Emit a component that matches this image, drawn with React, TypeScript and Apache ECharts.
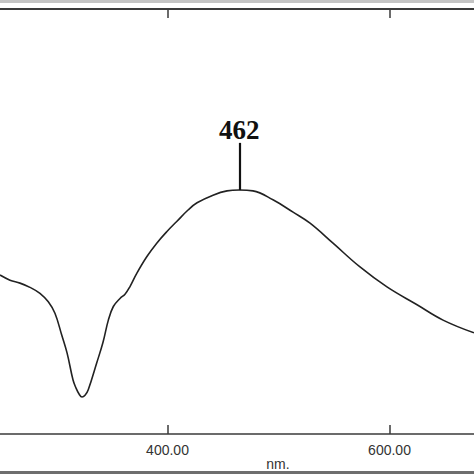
import React, { useEffect, useRef } from "react";
import * as echarts from "echarts";

// Wavelength (nm) and absorbance
const wavelengths: number[] = [
  249.1, 258.1, 267.1, 276.1, 285.1, 292.6, 298.6, 304.7, 309.5, 314.9,
  317.6, 320.3, 323.0, 325.7, 328.6, 336.2, 341.9, 346.7, 351.2, 357.2, 361.7,
  366.2, 372.3, 381.3, 390.3, 399.3, 408.3, 418.5, 426.6, 441.0, 453.6,
  464.7, 477.0, 495.0, 513.1, 528.4, 549.1, 573.4, 597.7, 624.8, 648.2, 676.1,
];
const absorbance: number[] = [
  0.374, 0.362, 0.355, 0.345, 0.331, 0.311, 0.284, 0.233, 0.191, 0.127,
  0.108, 0.094, 0.087, 0.091, 0.104, 0.167, 0.216, 0.268, 0.300, 0.319, 0.329,
  0.347, 0.378, 0.417, 0.449, 0.476, 0.500, 0.527, 0.544, 0.562, 0.572,
  0.574, 0.572, 0.551, 0.522, 0.496, 0.449, 0.393, 0.346, 0.304, 0.268, 0.238,
];
const tickValues: number[] = [400, 600];
const peakLabel = "462";
const peakMarkTop = 0.685;
const xMin = 249.1;
const xMax = 676.1;

export default function App() {
  const ref = useRef<HTMLDivElement>(null);
  useEffect(() => {
    if (!ref.current) return;
    const chart = echarts.init(ref.current, undefined, { renderer: "svg" });
    const data = wavelengths.map((w, i) => [w, absorbance[i]]);
    let peakIdx = 0;
    absorbance.forEach((a, i) => {
      if (a > absorbance[peakIdx]) peakIdx = i;
    });
    const peakX = wavelengths[peakIdx];
    const peakY = absorbance[peakIdx];
    const axisColor = "#3a3a3a";
    chart.setOption({
      animation: false,
      backgroundColor: "#ffffff",
      grid: {
        left: 0,
        right: 0,
        top: 9,
        bottom: 40,
        containLabel: false,
        outerBoundsMode: "none",
      },
      xAxis: [
        {
          type: "value",
          position: "bottom",
          min: xMin,
          max: xMax,
          splitLine: { show: false },
          axisLine: { show: true, lineStyle: { color: axisColor, width: 1.5 } },
          axisTick: {
            show: true,
            inside: true,
            length: 9,
            customValues: tickValues,
            lineStyle: { color: axisColor, width: 1.5 },
          },
          axisLabel: {
            show: true,
            customValues: tickValues,
            formatter: (v: number) => v.toFixed(2),
            fontFamily: "Liberation Sans, Arial, sans-serif",
            fontSize: 14,
            color: "#333",
            margin: 9,
          },
          name: "nm.",
          nameLocation: "middle",
          nameGap: 23,
          nameMoveOverlap: false,
          nameTextStyle: {
            fontFamily: "Liberation Sans, Arial, sans-serif",
            fontSize: 14,
            lineHeight: 14,
            color: "#333",
            padding: [0, 0, 0, 82],
          },
        },
        {
          type: "value",
          position: "top",
          min: xMin,
          max: xMax,
          splitLine: { show: false },
          axisLine: { show: true, lineStyle: { color: axisColor, width: 2 } },
          axisTick: {
            show: true,
            inside: true,
            length: 9,
            customValues: tickValues,
            lineStyle: { color: axisColor, width: 1.5 },
          },
          axisLabel: { show: false },
        },
      ],
      yAxis: { type: "value", min: 0, max: 1, show: false },
      series: [
        {
          type: "line",
          data,
          smooth: 0.4,
          showSymbol: false,
          symbol: "none",
          lineStyle: { color: "#222", width: 1.6 },
          markLine: {
            silent: true,
            symbol: ["none", "none"],
            lineStyle: { color: "#111", width: 2.2, type: "solid" },
            label: {
              show: true,
              position: "end",
              distance: -1,
              formatter: peakLabel,
              fontFamily: "Liberation Serif, Times New Roman, serif",
              fontWeight: "bold",
              fontSize: 27,
              lineHeight: 27,
              color: "#111",
            },
            data: [
              [
                { coord: [peakX, peakY] },
                { coord: [peakX, peakMarkTop] },
              ],
            ],
          },
        },
      ],
      graphic: [
        {
          type: "rect",
          z: -10,
          shape: { x: 0, y: 0, width: 474, height: 3 },
          style: { fill: "#c4c4c4" },
        },
        {
          type: "rect",
          z: -10,
          shape: { x: 0, y: 471, width: 474, height: 3 },
          style: { fill: "#6e6e6e" },
        },
      ],
    });
    return () => chart.dispose();
  }, []);
  return (
    <div
      ref={ref}
      style={{ position: "fixed", left: 0, top: 0, width: 474, height: 474 }}
    />
  );
}
